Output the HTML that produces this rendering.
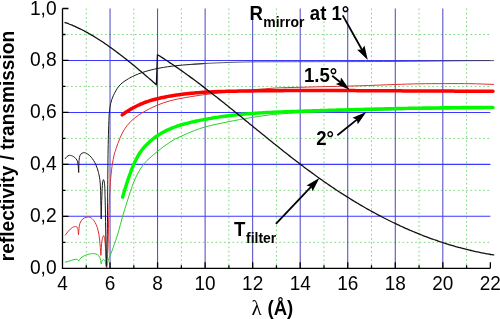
<!DOCTYPE html>
<html><head><meta charset="utf-8"><title>reflectivity / transmission</title>
<style>html,body{margin:0;padding:0;background:#fff;}body{width:500px;height:319px;overflow:hidden;}svg{display:block;filter:blur(0.3px);}</style>
</head><body>
<svg width="500" height="319" viewBox="0 0 500 319"><path d="M86.27 8.5 V268.3 M133.81 8.5 V268.3 M181.35 8.5 V268.3 M228.89 8.5 V268.3 M276.43 8.5 V268.3 M323.97 8.5 V268.3 M371.51 8.5 V268.3 M419.05 8.5 V268.3 M466.59 8.5 V268.3 M62.5 242.32 H490.36 M62.5 190.36 H490.36 M62.5 138.4 H490.36 M62.5 86.44 H490.36 M62.5 34.48 H490.36" stroke="#80d880" stroke-width="1" stroke-dasharray="1.7 2.55" fill="none"/>
<path d="M110.04 8.5 V268.3 M157.58 8.5 V268.3 M205.12 8.5 V268.3 M252.66 8.5 V268.3 M300.2 8.5 V268.3 M347.74 8.5 V268.3 M395.28 8.5 V268.3 M442.82 8.5 V268.3" stroke="#4a44c4" stroke-width="1" fill="none"/>
<path d="M62.5 216.34 H490.36 M62.5 164.38 H490.36 M62.5 112.42 H490.36 M62.5 60.46 H490.36" stroke="#3a3aff" stroke-width="1.05" fill="none"/>
<path d="M65.30 262.20C67.33 261.60 69.49 260.92 71.40 260.40C73.06 259.94 74.95 259.20 76.10 259.20C76.77 259.20 77.27 259.29 77.70 259.60C78.16 259.93 78.37 260.67 78.70 261.20C79.40 260.13 79.82 258.94 80.80 258.00C81.97 256.88 83.89 255.89 85.50 255.20C87.02 254.55 88.87 254.16 90.20 253.90C91.16 253.71 91.74 253.57 92.70 253.60C94.02 253.65 96.19 253.77 97.40 254.50C98.49 255.15 99.19 256.23 99.80 257.50C100.59 259.15 100.73 261.70 101.20 263.80C101.63 262.53 101.89 260.65 102.50 260.00C102.84 259.63 103.30 259.38 103.70 259.50C104.34 259.68 105.11 261.08 105.60 262.20C106.24 263.66 106.40 265.87 106.80 267.70C107.47 264.57 107.98 260.76 108.80 258.30C109.36 256.62 110.07 255.57 110.70 254.20C111.53 251.97 112.25 250.17 113.20 247.50C114.59 243.60 116.58 238.04 118.10 233.00C119.72 227.63 120.99 221.74 122.60 216.20C124.19 210.71 125.94 205.33 127.70 199.90C129.47 194.43 131.30 188.32 133.20 183.50C134.75 179.57 136.17 176.34 138.00 173.00C139.81 169.71 141.93 166.26 144.10 163.60C145.97 161.32 147.90 159.74 150.00 157.80C152.27 155.71 154.80 153.53 157.30 151.50C159.80 149.46 162.24 147.55 165.00 145.60C168.03 143.45 171.85 140.84 174.80 139.20C177.05 137.95 178.53 137.41 181.00 136.30C184.63 134.67 190.25 132.12 194.50 130.50C198.19 129.10 200.79 128.18 205.00 127.00C211.15 125.28 220.40 123.35 228.00 121.80C235.40 120.29 243.24 118.92 250.00 117.80C255.75 116.85 260.66 116.07 266.00 115.40C271.33 114.73 275.92 114.27 282.00 113.80C290.03 113.18 300.50 112.70 310.00 112.30C319.83 111.89 330.00 111.68 340.00 111.40C350.00 111.12 360.00 110.88 370.00 110.60C380.00 110.32 389.28 109.94 400.00 109.70C412.38 109.42 425.70 109.27 440.00 109.10C456.54 108.90 475.67 108.77 493.50 108.60" stroke="#2ad02a" stroke-width="1.0" fill="none" stroke-linejoin="round" stroke-linecap="round"/>
<path d="M65.30 235.20C66.40 233.77 67.40 232.19 68.60 230.90C69.74 229.67 70.97 228.34 72.30 227.60C73.49 226.94 75.18 226.23 76.10 226.50C76.80 226.70 77.22 227.37 77.60 228.20C78.25 229.62 78.20 232.60 78.50 234.80C78.97 231.00 78.88 226.23 79.90 223.40C80.58 221.49 81.52 220.06 82.70 219.00C83.77 218.04 85.21 217.35 86.50 217.10C87.71 216.87 89.04 216.90 90.20 217.40C91.56 217.99 92.88 219.28 94.00 220.80C95.48 222.80 96.78 225.84 97.70 228.80C98.74 232.16 99.09 235.96 99.60 240.00C100.20 244.71 100.47 250.27 100.90 255.40C101.30 250.27 101.35 243.59 102.10 240.00C102.52 237.98 103.24 235.37 103.70 235.40C104.24 235.44 104.66 239.42 105.00 242.00C105.48 245.59 105.65 250.73 105.90 255.00C106.15 259.16 106.30 263.20 106.50 267.30C106.97 261.53 107.56 256.46 107.90 250.00C108.33 241.79 108.35 230.77 108.60 222.00C108.82 214.22 109.03 205.90 109.30 200.00C109.48 196.02 109.66 193.67 109.90 190.00C110.20 185.50 110.55 179.56 111.00 175.00C111.38 171.16 111.76 167.82 112.30 164.40C112.81 161.16 113.39 157.82 114.10 155.00C114.69 152.64 115.29 150.97 116.10 148.60C117.13 145.56 118.51 141.53 119.90 138.30C121.19 135.29 122.37 132.53 124.10 129.80C125.93 126.92 128.01 124.13 130.70 121.50C133.81 118.45 137.84 115.51 142.00 112.90C146.53 110.06 152.11 107.37 157.00 105.30C161.42 103.42 165.45 102.06 170.00 100.80C174.85 99.46 180.24 98.54 185.30 97.60C190.24 96.68 195.07 95.90 200.00 95.20C204.97 94.50 210.00 93.97 215.00 93.40C220.00 92.83 224.36 92.35 230.00 91.80C237.27 91.09 247.03 90.25 255.00 89.60C262.30 89.00 268.76 88.38 276.00 88.00C283.73 87.59 291.55 87.54 300.00 87.30C309.44 87.04 320.00 86.75 330.00 86.50C340.00 86.25 349.62 86.11 360.00 85.80C371.22 85.46 384.31 84.85 395.00 84.50C404.03 84.21 410.24 83.95 420.00 83.80C433.81 83.59 456.44 83.51 470.00 83.70C479.30 83.83 485.67 84.17 493.50 84.40" stroke="#dd3030" stroke-width="1.0" fill="none" stroke-linejoin="round" stroke-linecap="round"/>
<path d="M122.60 197.15C123.27 194.89 123.93 192.59 124.60 190.36C125.26 188.18 125.93 186.03 126.60 183.91C127.26 181.86 127.93 179.83 128.61 177.85C129.26 175.94 129.93 174.06 130.61 172.23C131.26 170.48 131.93 168.75 132.61 167.10C133.26 165.52 133.93 163.98 134.61 162.50C135.26 161.11 135.93 159.76 136.62 158.46C137.27 157.23 137.93 156.05 138.62 154.92C139.27 153.84 139.94 152.81 140.62 151.82C141.27 150.87 141.94 149.97 142.62 149.10C143.28 148.27 143.94 147.47 144.62 146.71C145.28 145.97 145.95 145.26 146.63 144.58C147.28 143.92 147.95 143.28 148.63 142.67C149.29 142.06 149.96 141.47 150.63 140.90C151.29 140.34 151.96 139.79 152.63 139.25C153.30 138.72 153.96 138.21 154.63 137.71C155.30 137.21 155.97 136.73 156.64 136.26C157.30 135.80 157.97 135.35 158.64 134.91C159.30 134.48 159.97 134.06 160.64 133.65C161.31 133.25 161.97 132.86 162.64 132.48C163.31 132.11 163.98 131.74 164.65 131.39C165.31 131.04 165.98 130.70 166.65 130.38C167.31 130.05 167.98 129.74 168.65 129.43C169.32 129.13 169.98 128.84 170.65 128.56C171.32 128.28 171.99 128.01 172.65 127.74C173.32 127.48 173.99 127.23 174.66 126.98C175.32 126.74 175.99 126.51 176.66 126.28C177.32 126.05 177.99 125.83 178.66 125.62C179.33 125.41 179.99 125.20 180.66 125.00C181.33 124.80 182.00 124.61 182.66 124.42C183.33 124.24 184.00 124.05 184.67 123.88C185.33 123.70 186.00 123.53 186.67 123.36C187.34 123.19 188.00 123.02 188.67 122.86C189.34 122.70 190.01 122.54 190.67 122.38C191.34 122.22 192.01 122.07 192.68 121.92C193.34 121.76 194.01 121.61 194.68 121.47C195.34 121.32 196.01 121.17 196.68 121.03C197.35 120.89 198.01 120.75 198.68 120.61C199.35 120.47 200.02 120.33 200.68 120.20C201.35 120.06 202.02 119.93 202.69 119.80C203.35 119.67 204.02 119.54 204.69 119.42C205.36 119.29 206.02 119.17 206.69 119.05C207.36 118.93 208.03 118.81 208.69 118.69C209.36 118.57 210.03 118.46 210.70 118.35C211.36 118.23 212.03 118.12 212.70 118.01C213.36 117.90 214.03 117.80 214.70 117.69C215.37 117.59 216.03 117.48 216.70 117.38C217.37 117.28 218.04 117.18 218.70 117.08C219.37 116.98 220.04 116.89 220.71 116.79C221.37 116.70 222.04 116.61 222.71 116.51C223.38 116.42 224.04 116.33 224.71 116.25C225.38 116.16 226.04 116.07 226.71 115.99C227.38 115.91 228.05 115.82 228.71 115.74C229.38 115.66 230.05 115.58 230.72 115.50C231.38 115.43 232.05 115.35 232.72 115.28C233.39 115.20 234.05 115.13 234.72 115.06C235.39 114.98 236.06 114.91 236.72 114.85C237.39 114.78 238.06 114.71 238.73 114.64C239.39 114.58 240.06 114.51 240.73 114.45C241.39 114.39 242.06 114.32 242.73 114.26C243.40 114.20 244.06 114.14 244.73 114.08C245.40 114.03 246.07 113.97 246.73 113.91C247.40 113.86 248.07 113.80 248.74 113.75C249.40 113.70 250.07 113.65 250.74 113.59C251.41 113.54 252.07 113.49 252.74 113.44C253.41 113.40 254.08 113.35 254.74 113.30C255.41 113.25 256.08 113.21 256.74 113.16C257.41 113.12 258.08 113.08 258.75 113.03C259.41 112.99 260.08 112.95 260.75 112.91C261.42 112.87 262.08 112.83 262.75 112.79C263.42 112.75 264.09 112.71 264.75 112.67C265.42 112.64 266.09 112.60 266.76 112.56C267.42 112.53 268.09 112.49 268.76 112.46C269.43 112.42 270.09 112.39 270.76 112.36C271.43 112.32 272.09 112.29 272.76 112.26C273.43 112.23 274.10 112.20 274.76 112.17C275.43 112.14 276.10 112.11 276.77 112.08C277.43 112.05 278.10 112.02 278.77 111.99C279.44 111.96 280.10 111.94 280.77 111.91C281.44 111.88 282.11 111.86 282.77 111.83C283.44 111.80 284.11 111.78 284.78 111.75C285.44 111.73 286.11 111.70 286.78 111.68C287.44 111.65 288.11 111.63 288.78 111.60C289.45 111.58 290.11 111.56 290.78 111.53C291.45 111.51 292.12 111.49 292.78 111.46C293.45 111.44 294.12 111.42 294.79 111.39C295.45 111.37 296.12 111.35 296.79 111.33C297.46 111.31 298.12 111.28 298.79 111.26C299.46 111.24 300.13 111.22 300.79 111.19C301.46 111.17 302.13 111.15 302.79 111.13C303.46 111.11 304.13 111.09 304.80 111.06C305.46 111.04 306.13 111.02 306.80 111.00C307.47 110.98 308.13 110.96 308.80 110.93C309.47 110.91 310.14 110.89 310.80 110.87C311.47 110.85 312.14 110.83 312.81 110.81C313.47 110.78 314.14 110.76 314.81 110.74C315.47 110.72 316.14 110.70 316.81 110.68C317.48 110.66 318.14 110.64 318.81 110.62C319.48 110.60 320.15 110.58 320.81 110.55C321.48 110.53 322.15 110.51 322.82 110.49C323.48 110.47 324.15 110.45 324.82 110.43C325.49 110.41 326.15 110.39 326.82 110.37C327.49 110.35 328.16 110.33 328.82 110.31C329.49 110.29 330.16 110.27 330.82 110.25C331.49 110.23 332.16 110.21 332.83 110.19C333.49 110.17 334.16 110.15 334.83 110.13C335.50 110.11 336.16 110.09 336.83 110.07C337.50 110.05 338.17 110.03 338.83 110.01C339.50 109.99 340.17 109.98 340.84 109.96C341.50 109.94 342.17 109.92 342.84 109.90C343.51 109.88 344.17 109.86 344.84 109.84C345.51 109.82 346.17 109.80 346.84 109.79C347.51 109.77 348.18 109.75 348.84 109.73C349.51 109.71 350.18 109.69 350.85 109.67C351.51 109.66 352.18 109.64 352.85 109.62C353.52 109.60 354.18 109.58 354.85 109.56C355.52 109.55 356.19 109.53 356.85 109.51C357.52 109.49 358.19 109.48 358.86 109.46C359.52 109.44 360.19 109.42 360.86 109.40C361.52 109.39 362.19 109.37 362.86 109.35C363.53 109.34 364.19 109.32 364.86 109.30C365.53 109.28 366.20 109.27 366.86 109.25C367.53 109.23 368.20 109.22 368.87 109.20C369.53 109.18 370.20 109.17 370.87 109.15C371.54 109.13 372.20 109.12 372.87 109.10C373.54 109.08 374.21 109.07 374.87 109.05C375.54 109.03 376.21 109.02 376.87 109.00C377.54 108.99 378.21 108.97 378.88 108.95C379.54 108.94 380.21 108.92 380.88 108.91C381.55 108.89 382.21 108.88 382.88 108.86C383.55 108.85 384.22 108.83 384.88 108.81C385.55 108.80 386.22 108.78 386.89 108.77C387.55 108.75 388.22 108.74 388.89 108.72C389.55 108.71 390.22 108.70 390.89 108.68C391.56 108.67 392.22 108.65 392.89 108.64C393.56 108.62 394.23 108.61 394.89 108.59C395.56 108.58 396.23 108.57 396.90 108.55C397.56 108.54 398.23 108.52 398.90 108.51C399.57 108.50 400.23 108.48 400.90 108.47C401.57 108.46 402.24 108.44 402.90 108.43C403.57 108.42 404.24 108.40 404.90 108.39C405.57 108.38 406.24 108.36 406.91 108.35C407.57 108.34 408.24 108.33 408.91 108.31C409.58 108.30 410.24 108.29 410.91 108.28C411.58 108.26 412.25 108.25 412.91 108.24C413.58 108.23 414.25 108.21 414.92 108.20C415.58 108.19 416.25 108.18 416.92 108.17C417.59 108.16 418.25 108.14 418.92 108.13C419.59 108.12 420.25 108.11 420.92 108.10C421.59 108.09 422.26 108.08 422.92 108.07C423.59 108.05 424.26 108.04 424.93 108.03C425.59 108.02 426.26 108.01 426.93 108.00C427.60 107.99 428.26 107.98 428.93 107.97C429.60 107.96 430.27 107.95 430.93 107.94C431.60 107.93 432.27 107.92 432.94 107.91C433.60 107.90 434.27 107.89 434.94 107.88C435.60 107.87 436.27 107.86 436.94 107.85C437.61 107.85 438.27 107.84 438.94 107.83C439.61 107.82 440.28 107.81 440.94 107.80C441.61 107.79 442.28 107.78 442.95 107.78C443.61 107.77 444.28 107.76 444.95 107.75C445.62 107.74 446.28 107.73 446.95 107.73C447.62 107.72 448.29 107.71 448.95 107.70C449.62 107.70 450.29 107.69 450.95 107.68C451.62 107.67 452.29 107.67 452.96 107.66C453.62 107.65 454.29 107.65 454.96 107.64C455.63 107.63 456.29 107.63 456.96 107.62C457.63 107.61 458.30 107.61 458.96 107.60C459.63 107.59 460.30 107.59 460.97 107.58C461.63 107.58 462.30 107.57 462.97 107.56C463.63 107.56 464.30 107.55 464.97 107.55C465.64 107.54 466.30 107.54 466.97 107.53C467.64 107.53 468.31 107.52 468.97 107.52C469.64 107.51 470.31 107.51 470.98 107.50C471.64 107.50 472.31 107.49 472.98 107.49C473.65 107.49 474.31 107.48 474.98 107.48C475.65 107.47 476.32 107.47 476.98 107.47C477.65 107.46 478.32 107.46 478.98 107.46C479.65 107.45 480.32 107.45 480.99 107.45C481.65 107.44 482.32 107.44 482.99 107.44C483.66 107.44 484.32 107.43 484.99 107.43C485.66 107.43 486.33 107.43 486.99 107.42C487.66 107.42 488.33 107.42 489.00 107.42C489.66 107.42 490.33 107.41 491.00 107.41C491.67 107.41 492.33 107.41 493.00 107.41" stroke="#00fa00" stroke-width="3.4" fill="none" stroke-linejoin="round" stroke-linecap="round"/>
<path d="M122.20 114.94C122.87 114.45 123.53 113.95 124.20 113.46C124.87 112.99 125.54 112.52 126.21 112.07C126.87 111.62 127.54 111.18 128.21 110.75C128.88 110.33 129.55 109.91 130.22 109.51C130.88 109.11 131.55 108.72 132.22 108.35C132.89 107.97 133.56 107.60 134.23 107.25C134.89 106.90 135.56 106.55 136.23 106.22C136.90 105.89 137.56 105.57 138.23 105.26C138.90 104.95 139.57 104.65 140.24 104.36C140.91 104.07 141.57 103.78 142.24 103.51C142.91 103.24 143.58 102.98 144.25 102.72C144.91 102.47 145.58 102.22 146.25 101.99C146.92 101.75 147.59 101.52 148.26 101.30C148.92 101.08 149.59 100.86 150.26 100.65C150.93 100.45 151.60 100.25 152.26 100.05C152.93 99.86 153.60 99.67 154.27 99.49C154.94 99.31 155.60 99.14 156.27 98.97C156.94 98.80 157.61 98.63 158.28 98.48C158.95 98.32 159.61 98.16 160.28 98.01C160.95 97.86 161.62 97.72 162.29 97.58C162.95 97.44 163.62 97.30 164.29 97.17C164.96 97.03 165.63 96.90 166.30 96.78C166.96 96.65 167.63 96.53 168.30 96.40C168.97 96.28 169.64 96.17 170.30 96.05C170.97 95.93 171.64 95.82 172.31 95.71C172.98 95.60 173.64 95.50 174.31 95.39C174.98 95.29 175.65 95.18 176.32 95.09C176.98 94.99 177.65 94.89 178.32 94.80C178.99 94.70 179.66 94.61 180.33 94.52C180.99 94.43 181.66 94.35 182.33 94.26C183.00 94.18 183.67 94.10 184.33 94.02C185.00 93.94 185.67 93.86 186.34 93.78C187.01 93.71 187.67 93.64 188.34 93.57C189.01 93.49 189.68 93.43 190.35 93.36C191.02 93.29 191.68 93.23 192.35 93.17C193.02 93.10 193.69 93.04 194.36 92.99C195.02 92.93 195.69 92.87 196.36 92.82C197.03 92.76 197.70 92.71 198.36 92.66C199.03 92.61 199.70 92.56 200.37 92.51C201.04 92.46 201.70 92.42 202.37 92.37C203.04 92.33 203.71 92.28 204.38 92.24C205.05 92.20 205.71 92.16 206.38 92.12C207.05 92.09 207.72 92.05 208.39 92.01C209.05 91.98 209.72 91.94 210.39 91.91C211.06 91.88 211.73 91.85 212.39 91.82C213.06 91.79 213.73 91.76 214.40 91.73C215.07 91.70 215.74 91.68 216.40 91.65C217.07 91.63 217.74 91.60 218.41 91.58C219.08 91.55 219.74 91.53 220.41 91.51C221.08 91.49 221.75 91.47 222.42 91.45C223.08 91.43 223.75 91.41 224.42 91.39C225.09 91.37 225.76 91.36 226.42 91.34C227.09 91.32 227.76 91.31 228.43 91.29C229.10 91.28 229.77 91.26 230.43 91.25C231.10 91.24 231.77 91.22 232.44 91.21C233.11 91.20 233.77 91.18 234.44 91.17C235.11 91.16 235.78 91.15 236.45 91.14C237.11 91.12 237.78 91.11 238.45 91.10C239.12 91.09 239.79 91.08 240.46 91.07C241.12 91.06 241.79 91.05 242.46 91.04C243.13 91.03 243.80 91.02 244.46 91.01C245.13 91.00 245.80 90.99 246.47 90.98C247.14 90.97 247.80 90.96 248.47 90.95C249.14 90.94 249.81 90.93 250.48 90.92C251.14 90.92 251.81 90.91 252.48 90.90C253.15 90.89 253.82 90.88 254.49 90.87C255.15 90.87 255.82 90.86 256.49 90.85C257.16 90.84 257.83 90.84 258.49 90.83C259.16 90.82 259.83 90.81 260.50 90.81C261.17 90.80 261.83 90.79 262.50 90.79C263.17 90.78 263.84 90.77 264.51 90.77C265.18 90.76 265.84 90.75 266.51 90.75C267.18 90.74 267.85 90.73 268.52 90.73C269.18 90.72 269.85 90.72 270.52 90.71C271.19 90.71 271.86 90.70 272.52 90.69C273.19 90.69 273.86 90.68 274.53 90.68C275.20 90.67 275.86 90.67 276.53 90.66C277.20 90.66 277.87 90.66 278.54 90.65C279.21 90.65 279.87 90.64 280.54 90.64C281.21 90.63 281.88 90.63 282.55 90.63C283.21 90.62 283.88 90.62 284.55 90.62C285.22 90.61 285.89 90.61 286.55 90.60C287.22 90.60 287.89 90.60 288.56 90.59C289.23 90.59 289.90 90.59 290.56 90.59C291.23 90.58 291.90 90.58 292.57 90.58C293.24 90.58 293.90 90.57 294.57 90.57C295.24 90.57 295.91 90.57 296.58 90.56C297.24 90.56 297.91 90.56 298.58 90.56C299.25 90.56 299.92 90.55 300.58 90.55C301.25 90.55 301.92 90.55 302.59 90.55C303.26 90.55 303.93 90.55 304.59 90.54C305.26 90.54 305.93 90.54 306.60 90.54C307.27 90.54 307.93 90.54 308.60 90.54C309.27 90.54 309.94 90.54 310.61 90.54C311.27 90.54 311.94 90.53 312.61 90.53C313.28 90.53 313.95 90.53 314.62 90.53C315.28 90.53 315.95 90.53 316.62 90.53C317.29 90.53 317.96 90.53 318.62 90.53C319.29 90.53 319.96 90.53 320.63 90.53C321.30 90.53 321.96 90.54 322.63 90.54C323.30 90.54 323.97 90.54 324.64 90.54C325.30 90.54 325.97 90.54 326.64 90.54C327.31 90.54 327.98 90.54 328.65 90.54C329.31 90.54 329.98 90.55 330.65 90.55C331.32 90.55 331.99 90.55 332.65 90.55C333.32 90.55 333.99 90.55 334.66 90.55C335.33 90.56 335.99 90.56 336.66 90.56C337.33 90.56 338.00 90.56 338.67 90.56C339.34 90.57 340.00 90.57 340.67 90.57C341.34 90.57 342.01 90.57 342.68 90.58C343.34 90.58 344.01 90.58 344.68 90.58C345.35 90.59 346.02 90.59 346.68 90.59C347.35 90.59 348.02 90.59 348.69 90.60C349.36 90.60 350.02 90.60 350.69 90.60C351.36 90.61 352.03 90.61 352.70 90.61C353.37 90.62 354.03 90.62 354.70 90.62C355.37 90.62 356.04 90.63 356.71 90.63C357.37 90.63 358.04 90.63 358.71 90.64C359.38 90.64 360.05 90.64 360.71 90.65C361.38 90.65 362.05 90.65 362.72 90.66C363.39 90.66 364.06 90.66 364.72 90.67C365.39 90.67 366.06 90.67 366.73 90.68C367.40 90.68 368.06 90.68 368.73 90.69C369.40 90.69 370.07 90.69 370.74 90.70C371.40 90.70 372.07 90.70 372.74 90.71C373.41 90.71 374.08 90.71 374.74 90.72C375.41 90.72 376.08 90.72 376.75 90.73C377.42 90.73 378.09 90.74 378.75 90.74C379.42 90.74 380.09 90.75 380.76 90.75C381.43 90.75 382.09 90.76 382.76 90.76C383.43 90.76 384.10 90.77 384.77 90.77C385.43 90.78 386.10 90.78 386.77 90.78C387.44 90.79 388.11 90.79 388.78 90.80C389.44 90.80 390.11 90.80 390.78 90.81C391.45 90.81 392.12 90.81 392.78 90.82C393.45 90.82 394.12 90.83 394.79 90.83C395.46 90.83 396.12 90.84 396.79 90.84C397.46 90.85 398.13 90.85 398.80 90.85C399.46 90.86 400.13 90.86 400.80 90.87C401.47 90.87 402.14 90.87 402.81 90.88C403.47 90.88 404.14 90.88 404.81 90.89C405.48 90.89 406.15 90.90 406.81 90.90C407.48 90.90 408.15 90.91 408.82 90.91C409.49 90.92 410.15 90.92 410.82 90.92C411.49 90.93 412.16 90.93 412.83 90.93C413.50 90.94 414.16 90.94 414.83 90.95C415.50 90.95 416.17 90.95 416.84 90.96C417.50 90.96 418.17 90.96 418.84 90.97C419.51 90.97 420.18 90.98 420.84 90.98C421.51 90.98 422.18 90.99 422.85 90.99C423.52 90.99 424.18 91.00 424.85 91.00C425.52 91.00 426.19 91.01 426.86 91.01C427.53 91.01 428.19 91.02 428.86 91.02C429.53 91.02 430.20 91.03 430.87 91.03C431.53 91.03 432.20 91.04 432.87 91.04C433.54 91.04 434.21 91.05 434.87 91.05C435.54 91.05 436.21 91.06 436.88 91.06C437.55 91.06 438.22 91.07 438.88 91.07C439.55 91.07 440.22 91.07 440.89 91.08C441.56 91.08 442.22 91.08 442.89 91.09C443.56 91.09 444.23 91.09 444.90 91.09C445.56 91.10 446.23 91.10 446.90 91.10C447.57 91.11 448.24 91.11 448.90 91.11C449.57 91.11 450.24 91.11 450.91 91.12C451.58 91.12 452.25 91.12 452.91 91.12C453.58 91.13 454.25 91.13 454.92 91.13C455.59 91.13 456.25 91.13 456.92 91.14C457.59 91.14 458.26 91.14 458.93 91.14C459.59 91.14 460.26 91.15 460.93 91.15C461.60 91.15 462.27 91.15 462.94 91.15C463.60 91.15 464.27 91.16 464.94 91.16C465.61 91.16 466.28 91.16 466.94 91.16C467.61 91.16 468.28 91.16 468.95 91.16C469.62 91.17 470.28 91.17 470.95 91.17C471.62 91.17 472.29 91.17 472.96 91.17C473.62 91.17 474.29 91.17 474.96 91.17C475.63 91.17 476.30 91.17 476.97 91.17C477.63 91.17 478.30 91.17 478.97 91.17C479.64 91.17 480.31 91.17 480.97 91.17C481.64 91.17 482.31 91.17 482.98 91.17C483.65 91.17 484.31 91.17 484.98 91.17C485.65 91.17 486.32 91.17 486.99 91.17C487.66 91.17 488.32 91.17 488.99 91.17C489.66 91.17 490.33 91.17 491.00 91.17C491.66 91.17 492.33 91.17 493.00 91.16" stroke="#ff0000" stroke-width="3.5" fill="none" stroke-linejoin="round" stroke-linecap="round"/>
<path d="M65.30 158.60C65.77 158.00 66.08 157.32 66.70 156.80C67.43 156.19 68.47 155.40 69.50 155.30C70.65 155.19 72.18 155.88 73.30 156.50C74.37 157.10 75.38 157.97 76.10 158.90C76.79 159.78 77.21 160.55 77.60 161.90C78.30 164.31 78.33 168.97 78.70 172.50C78.93 167.50 78.68 160.65 79.40 157.50C79.75 155.96 80.07 155.02 80.80 154.20C81.49 153.42 82.57 152.70 83.60 152.60C84.75 152.49 86.20 153.21 87.40 153.90C88.75 154.68 89.98 155.79 91.20 157.20C92.75 159.00 94.40 161.60 95.60 164.10C96.86 166.72 97.75 169.66 98.50 172.60C99.27 175.62 99.72 178.35 100.10 182.00C100.62 187.02 100.62 193.92 100.80 200.00C100.99 206.25 101.07 212.67 101.20 219.00C101.43 211.00 101.61 201.63 101.90 195.00C102.11 190.31 102.20 185.77 102.60 183.00C102.82 181.51 103.09 179.62 103.40 179.60C103.67 179.58 104.06 180.82 104.30 182.00C104.91 184.95 104.89 191.75 105.10 198.00C105.40 206.83 105.51 218.98 105.70 230.00C105.91 241.77 106.10 254.33 106.30 266.50C106.60 257.67 106.98 250.23 107.20 240.00C107.51 225.96 107.54 205.74 107.70 190.00C107.84 175.92 107.91 161.05 108.10 150.00C108.24 142.19 108.37 136.49 108.60 130.00C108.81 123.84 108.92 116.88 109.40 112.00C109.73 108.63 110.04 106.25 110.70 103.50C111.35 100.82 112.10 98.36 113.30 95.70C114.69 92.64 116.92 88.68 118.80 86.30C120.17 84.56 121.57 83.45 123.00 82.30C124.31 81.25 125.75 80.39 127.00 79.60C128.06 78.92 128.86 78.43 130.00 77.80C131.44 77.01 133.17 76.11 135.00 75.30C137.12 74.36 139.57 73.43 142.00 72.60C144.56 71.72 147.17 70.93 150.00 70.20C153.13 69.39 156.32 68.67 160.00 68.00C164.48 67.18 169.99 66.38 175.00 65.80C179.99 65.22 185.00 64.88 190.00 64.50C195.00 64.12 200.00 63.83 205.00 63.50" stroke="#1a1a1a" stroke-width="1.0" fill="none" stroke-linejoin="round" stroke-linecap="round"/>
<path d="M190.00 64.50C195.00 64.17 199.36 63.81 205.00 63.50C212.27 63.10 222.13 62.67 230.00 62.40C237.04 62.16 242.66 62.01 250.00 61.90C258.99 61.77 268.73 61.79 280.00 61.75C294.55 61.70 311.93 61.70 330.00 61.65C351.38 61.59 379.91 61.54 400.00 61.40C415.19 61.30 427.62 61.12 440.00 61.00C450.72 60.89 460.59 60.77 470.00 60.70C478.36 60.64 485.80 60.63 493.70 60.60" stroke="#404040" stroke-width="0.85" fill="none" stroke-linejoin="round" stroke-linecap="round"/>
<path d="M65.00 22.52C65.66 22.76 66.33 22.99 66.99 23.23C67.65 23.47 68.31 23.72 68.97 23.98C69.64 24.24 70.30 24.50 70.96 24.77C71.62 25.04 72.29 25.31 72.95 25.59C73.61 25.88 74.27 26.16 74.93 26.46C75.60 26.75 76.26 27.05 76.92 27.36C77.59 27.67 78.25 27.98 78.91 28.30C79.57 28.61 80.23 28.94 80.90 29.27C81.56 29.60 82.22 29.93 82.88 30.28C83.55 30.62 84.21 30.96 84.87 31.32C85.53 31.67 86.20 32.03 86.86 32.39C87.52 32.75 88.18 33.12 88.84 33.50C89.51 33.87 90.17 34.25 90.83 34.64C91.49 35.02 92.16 35.41 92.82 35.80C93.48 36.20 94.14 36.60 94.80 37.00C95.47 37.41 96.13 37.82 96.79 38.23C97.45 38.65 98.12 39.06 98.78 39.49C99.44 39.91 100.10 40.34 100.77 40.77C101.43 41.20 102.09 41.64 102.75 42.08C103.42 42.52 104.08 42.97 104.74 43.42C105.40 43.87 106.06 44.32 106.73 44.78C107.39 45.24 108.05 45.70 108.71 46.17C109.38 46.63 110.04 47.11 110.70 47.58C111.36 48.05 112.03 48.53 112.69 49.01C113.35 49.49 114.01 49.98 114.67 50.47C115.34 50.96 116.00 51.45 116.66 51.95C117.32 52.44 117.99 52.94 118.65 53.44C119.31 53.95 119.97 54.45 120.63 54.96C121.30 55.47 121.96 55.98 122.62 56.50C123.28 57.01 123.95 57.53 124.61 58.05C125.27 58.58 125.93 59.10 126.60 59.63C127.26 60.16 127.92 60.69 128.58 61.22C129.25 61.75 129.91 62.29 130.57 62.82C131.23 63.36 131.89 63.90 132.56 64.44C133.22 64.99 133.88 65.53 134.54 66.08C135.21 66.63 135.87 67.18 136.53 67.73C137.19 68.28 137.86 68.84 138.52 69.39C139.18 69.95 139.84 70.51 140.50 71.07C141.17 71.63 141.83 72.19 142.49 72.75C143.15 73.32 143.82 73.88 144.48 74.45C145.14 75.02 145.80 75.59 146.47 76.16C147.13 76.73 147.79 77.30 148.45 77.87C149.11 78.45 149.78 79.02 150.44 79.60C151.10 80.17 151.76 80.75 152.43 81.33C153.09 81.91 153.75 82.49 154.41 83.07C155.08 83.65 155.74 84.23 156.40 84.81L157.40 54.90C158.07 55.21 158.75 55.48 159.40 55.84C160.08 56.22 160.74 56.69 161.40 57.11C162.07 57.54 162.74 57.97 163.41 58.40C164.07 58.83 164.74 59.26 165.41 59.70C166.07 60.14 166.74 60.57 167.41 61.01C168.08 61.46 168.74 61.90 169.41 62.35C170.08 62.79 170.75 63.24 171.41 63.69C172.08 64.14 172.75 64.60 173.41 65.05C174.08 65.51 174.75 65.96 175.42 66.42C176.08 66.88 176.75 67.35 177.42 67.81C178.09 68.27 178.75 68.74 179.42 69.21C180.09 69.68 180.75 70.15 181.42 70.62C182.09 71.09 182.76 71.57 183.42 72.05C184.09 72.52 184.76 73.00 185.43 73.48C186.09 73.96 186.76 74.45 187.43 74.93C188.09 75.41 188.76 75.90 189.43 76.39C190.10 76.88 190.76 77.37 191.43 77.86C192.10 78.35 192.77 78.84 193.43 79.34C194.10 79.83 194.77 80.33 195.43 80.83C196.10 81.33 196.77 81.83 197.44 82.33C198.10 82.83 198.77 83.34 199.44 83.84C200.11 84.35 200.77 84.85 201.44 85.36C202.11 85.87 202.77 86.38 203.44 86.89C204.11 87.40 204.78 87.91 205.44 88.42C206.11 88.94 206.78 89.45 207.44 89.97C208.11 90.48 208.78 91.00 209.45 91.52C210.11 92.04 210.78 92.56 211.45 93.08C212.12 93.60 212.78 94.12 213.45 94.65C214.12 95.17 214.78 95.69 215.45 96.22C216.12 96.75 216.79 97.27 217.45 97.80C218.12 98.33 218.79 98.86 219.46 99.38C220.12 99.91 220.79 100.44 221.46 100.98C222.12 101.51 222.79 102.04 223.46 102.57C224.13 103.10 224.79 103.64 225.46 104.17C226.13 104.71 226.80 105.24 227.46 105.78C228.13 106.31 228.80 106.85 229.46 107.39C230.13 107.93 230.80 108.46 231.47 109.00C232.13 109.54 232.80 110.08 233.47 110.62C234.14 111.16 234.80 111.70 235.47 112.24C236.14 112.78 236.80 113.32 237.47 113.86C238.14 114.40 238.81 114.95 239.47 115.49C240.14 116.03 240.81 116.57 241.47 117.11C242.14 117.66 242.81 118.20 243.48 118.74C244.14 119.29 244.81 119.83 245.48 120.37C246.15 120.92 246.81 121.46 247.48 122.01C248.15 122.55 248.81 123.09 249.48 123.64C250.15 124.18 250.82 124.73 251.48 125.27C252.15 125.81 252.82 126.36 253.49 126.90C254.15 127.45 254.82 127.99 255.49 128.53C256.15 129.08 256.82 129.62 257.49 130.16C258.16 130.71 258.82 131.25 259.49 131.79C260.16 132.34 260.83 132.88 261.49 133.42C262.16 133.97 262.83 134.51 263.49 135.05C264.16 135.59 264.83 136.13 265.50 136.67C266.16 137.21 266.83 137.76 267.50 138.30C268.17 138.84 268.83 139.38 269.50 139.91C270.17 140.45 270.83 140.99 271.50 141.53C272.17 142.07 272.84 142.61 273.50 143.14C274.17 143.68 274.84 144.21 275.51 144.75C276.17 145.29 276.84 145.82 277.51 146.35C278.17 146.89 278.84 147.42 279.51 147.95C280.18 148.49 280.84 149.02 281.51 149.55C282.18 150.08 282.85 150.61 283.51 151.14C284.18 151.66 284.85 152.19 285.51 152.72C286.18 153.25 286.85 153.77 287.52 154.30C288.18 154.82 288.85 155.34 289.52 155.87C290.18 156.39 290.85 156.91 291.52 157.43C292.19 157.95 292.85 158.47 293.52 158.99C294.19 159.50 294.86 160.02 295.52 160.54C296.19 161.05 296.86 161.56 297.52 162.08C298.19 162.59 298.86 163.10 299.53 163.61C300.19 164.12 300.86 164.63 301.53 165.13C302.20 165.64 302.86 166.15 303.53 166.65C304.20 167.15 304.86 167.65 305.53 168.16C306.20 168.66 306.87 169.15 307.53 169.65C308.20 170.15 308.87 170.64 309.54 171.14C310.20 171.63 310.87 172.12 311.54 172.61C312.20 173.10 312.87 173.59 313.54 174.08C314.21 174.57 314.87 175.05 315.54 175.53C316.21 176.02 316.88 176.50 317.54 176.98C318.21 177.46 318.88 177.93 319.54 178.41C320.21 178.88 320.88 179.36 321.55 179.83C322.21 180.30 322.88 180.77 323.55 181.24C324.22 181.70 324.88 182.17 325.55 182.63C326.22 183.09 326.88 183.55 327.55 184.01C328.22 184.47 328.89 184.93 329.55 185.38C330.22 185.84 330.89 186.29 331.56 186.74C332.22 187.19 332.89 187.64 333.56 188.09C334.22 188.54 334.89 188.98 335.56 189.42C336.23 189.87 336.89 190.31 337.56 190.75C338.23 191.18 338.89 191.62 339.56 192.06C340.23 192.49 340.90 192.92 341.56 193.35C342.23 193.78 342.90 194.21 343.57 194.64C344.23 195.06 344.90 195.49 345.57 195.91C346.23 196.33 346.90 196.75 347.57 197.17C348.24 197.59 348.90 198.01 349.57 198.42C350.24 198.83 350.91 199.25 351.57 199.66C352.24 200.07 352.91 200.47 353.57 200.88C354.24 201.28 354.91 201.69 355.58 202.09C356.24 202.49 356.91 202.89 357.58 203.29C358.25 203.69 358.91 204.08 359.58 204.48C360.25 204.87 360.91 205.26 361.58 205.65C362.25 206.04 362.92 206.43 363.58 206.81C364.25 207.20 364.92 207.58 365.59 207.96C366.25 208.34 366.92 208.72 367.59 209.10C368.25 209.47 368.92 209.85 369.59 210.22C370.26 210.59 370.92 210.96 371.59 211.33C372.26 211.70 372.93 212.07 373.59 212.43C374.26 212.80 374.93 213.16 375.59 213.52C376.26 213.88 376.93 214.24 377.60 214.59C378.26 214.95 378.93 215.30 379.60 215.65C380.27 216.01 380.93 216.36 381.60 216.70C382.27 217.05 382.93 217.40 383.60 217.74C384.27 218.08 384.94 218.42 385.60 218.76C386.27 219.10 386.94 219.44 387.61 219.77C388.27 220.11 388.94 220.44 389.61 220.77C390.27 221.10 390.94 221.43 391.61 221.76C392.28 222.08 392.94 222.41 393.61 222.73C394.28 223.05 394.94 223.37 395.61 223.69C396.28 224.01 396.95 224.33 397.61 224.64C398.28 224.95 398.95 225.27 399.62 225.57C400.28 225.88 400.95 226.19 401.62 226.50C402.28 226.80 402.95 227.11 403.62 227.41C404.29 227.71 404.95 228.01 405.62 228.30C406.29 228.60 406.96 228.89 407.62 229.19C408.29 229.48 408.96 229.77 409.62 230.06C410.29 230.35 410.96 230.63 411.63 230.92C412.29 231.20 412.96 231.48 413.63 231.76C414.30 232.04 414.96 232.32 415.63 232.60C416.30 232.87 416.96 233.14 417.63 233.42C418.30 233.69 418.97 233.96 419.63 234.22C420.30 234.49 420.97 234.75 421.64 235.02C422.30 235.28 422.97 235.54 423.64 235.80C424.30 236.06 424.97 236.31 425.64 236.57C426.31 236.82 426.97 237.07 427.64 237.32C428.31 237.57 428.98 237.82 429.64 238.06C430.31 238.31 430.98 238.55 431.64 238.79C432.31 239.03 432.98 239.27 433.65 239.51C434.31 239.75 434.98 239.98 435.65 240.21C436.32 240.45 436.98 240.68 437.65 240.90C438.32 241.13 438.98 241.36 439.65 241.58C440.32 241.81 440.99 242.03 441.65 242.25C442.32 242.47 442.99 242.68 443.66 242.90C444.32 243.11 444.99 243.33 445.66 243.54C446.32 243.75 446.99 243.96 447.66 244.16C448.33 244.37 448.99 244.57 449.66 244.77C450.33 244.98 450.99 245.18 451.66 245.37C452.33 245.57 453.00 245.77 453.66 245.96C454.33 246.15 455.00 246.34 455.67 246.53C456.33 246.72 457.00 246.91 457.67 247.09C458.33 247.28 459.00 247.46 459.67 247.64C460.34 247.82 461.00 248.00 461.67 248.17C462.34 248.35 463.01 248.52 463.67 248.69C464.34 248.86 465.01 249.03 465.67 249.20C466.34 249.36 467.01 249.53 467.68 249.69C468.34 249.85 469.01 250.01 469.68 250.17C470.35 250.33 471.01 250.49 471.68 250.64C472.35 250.79 473.01 250.94 473.68 251.09C474.35 251.24 475.02 251.39 475.68 251.53C476.35 251.68 477.02 251.82 477.69 251.96C478.35 252.10 479.02 252.24 479.69 252.37C480.35 252.51 481.02 252.64 481.69 252.77C482.36 252.91 483.02 253.03 483.69 253.16C484.36 253.29 485.03 253.41 485.69 253.53C486.36 253.66 487.03 253.78 487.69 253.89C488.36 254.01 489.03 254.13 489.70 254.24C490.36 254.36 491.03 254.47 491.70 254.58C492.37 254.68 493.03 254.79 493.70 254.90" stroke="#111111" stroke-width="1.3" fill="none" stroke-linejoin="round" stroke-linecap="round"/>
<path d="M62.5 8.5 V268.3 H490.36 M62.5 268.3 h6 M62.5 242.32 h3 M62.5 216.34 h6 M62.5 190.36 h3 M62.5 164.38 h6 M62.5 138.4 h3 M62.5 112.42 h6 M62.5 86.44 h3 M62.5 60.46 h6 M62.5 34.48 h3 M62.5 8.5 h6 M62.5 268.3 v-6 M86.27 268.3 v-3 M110.04 268.3 v-6 M133.81 268.3 v-3 M157.58 268.3 v-6 M181.35 268.3 v-3 M205.12 268.3 v-6 M228.89 268.3 v-3 M252.66 268.3 v-6 M276.43 268.3 v-3 M300.2 268.3 v-6 M323.97 268.3 v-3 M347.74 268.3 v-6 M371.51 268.3 v-3 M395.28 268.3 v-6 M419.05 268.3 v-3 M442.82 268.3 v-6 M466.59 268.3 v-3 M490.36 268.3 v-6" stroke="#000" stroke-width="1.3" fill="none" stroke-linecap="butt"/>
<path d="M342.70 15.40 L362.12 49.99" stroke="#000" stroke-width="1.8" fill="none"/><path d="M367.80 60.10 L357.14 49.69 L361.88 49.55 L364.46 45.57 Z" fill="#000"/>
<path d="M332.20 75.80 L340.56 82.53" stroke="#000" stroke-width="1.8" fill="none"/><path d="M349.60 89.80 L335.83 84.11 L340.17 82.21 L341.09 77.56 Z" fill="#000"/>
<path d="M337.40 135.20 L357.24 119.34" stroke="#000" stroke-width="1.8" fill="none"/><path d="M366.30 112.10 L357.75 124.31 L356.85 119.65 L352.51 117.75 Z" fill="#000"/>
<path d="M275.90 223.80 L311.42 186.32" stroke="#000" stroke-width="1.8" fill="none"/><path d="M319.40 177.90 L312.61 191.17 L311.08 186.68 L306.51 185.39 Z" fill="#000"/>
<text transform="translate(56.6 274.3) scale(0.96 1)" font-family="Liberation Sans, sans-serif" font-size="20" font-weight="normal" text-anchor="end">0,0</text>
<text transform="translate(56.6 222.34) scale(0.96 1)" font-family="Liberation Sans, sans-serif" font-size="20" font-weight="normal" text-anchor="end">0,2</text>
<text transform="translate(56.6 170.38) scale(0.96 1)" font-family="Liberation Sans, sans-serif" font-size="20" font-weight="normal" text-anchor="end">0,4</text>
<text transform="translate(56.6 118.42) scale(0.96 1)" font-family="Liberation Sans, sans-serif" font-size="20" font-weight="normal" text-anchor="end">0,6</text>
<text transform="translate(56.6 66.46) scale(0.96 1)" font-family="Liberation Sans, sans-serif" font-size="20" font-weight="normal" text-anchor="end">0,8</text>
<text transform="translate(56.6 14.5) scale(0.96 1)" font-family="Liberation Sans, sans-serif" font-size="20" font-weight="normal" text-anchor="end">1,0</text>
<text transform="translate(62.5 290.4) scale(0.95 1)" font-family="Liberation Sans, sans-serif" font-size="20" font-weight="normal" text-anchor="middle">4</text>
<text transform="translate(110.04 290.4) scale(0.95 1)" font-family="Liberation Sans, sans-serif" font-size="20" font-weight="normal" text-anchor="middle">6</text>
<text transform="translate(157.58 290.4) scale(0.95 1)" font-family="Liberation Sans, sans-serif" font-size="20" font-weight="normal" text-anchor="middle">8</text>
<text transform="translate(205.12 290.4) scale(0.95 1)" font-family="Liberation Sans, sans-serif" font-size="20" font-weight="normal" text-anchor="middle">10</text>
<text transform="translate(252.66 290.4) scale(0.95 1)" font-family="Liberation Sans, sans-serif" font-size="20" font-weight="normal" text-anchor="middle">12</text>
<text transform="translate(300.2 290.4) scale(0.95 1)" font-family="Liberation Sans, sans-serif" font-size="20" font-weight="normal" text-anchor="middle">14</text>
<text transform="translate(347.74 290.4) scale(0.95 1)" font-family="Liberation Sans, sans-serif" font-size="20" font-weight="normal" text-anchor="middle">16</text>
<text transform="translate(395.28 290.4) scale(0.95 1)" font-family="Liberation Sans, sans-serif" font-size="20" font-weight="normal" text-anchor="middle">18</text>
<text transform="translate(442.82 290.4) scale(0.95 1)" font-family="Liberation Sans, sans-serif" font-size="20" font-weight="normal" text-anchor="middle">20</text>
<text transform="translate(490.36 290.4) scale(0.95 1)" font-family="Liberation Sans, sans-serif" font-size="20" font-weight="normal" text-anchor="middle">22</text>
<text transform="translate(14.2 261.2) rotate(-90) scale(0.975 1)" font-family="Liberation Sans, sans-serif" font-size="19.6" font-weight="bold">reflectivity / transmission</text>
<text transform="translate(251.6 315.4) scale(0.98 1)" font-family="Liberation Serif, sans-serif" font-size="21.5" font-weight="normal" text-anchor="start">&#955;</text>
<text transform="translate(267.5 314.6) scale(0.93 1)" font-family="Liberation Sans, sans-serif" font-size="20" font-weight="bold" text-anchor="start">(&#197;)</text>
<text transform="translate(249.6 19.6) scale(0.93 1)" font-family="Liberation Sans, sans-serif" font-size="20" font-weight="bold" text-anchor="start">R</text>
<text transform="translate(263.3 26.9) scale(0.93 1)" font-family="Liberation Sans, sans-serif" font-size="15" font-weight="bold" text-anchor="start">mirror</text>
<text transform="translate(309.8 19.6) scale(0.93 1)" font-family="Liberation Sans, sans-serif" font-size="20" font-weight="bold" text-anchor="start">at 1&#176;</text>
<text transform="translate(304 81.5) scale(0.93 1)" font-family="Liberation Sans, sans-serif" font-size="20" font-weight="bold" text-anchor="start">1.5&#176;</text>
<text transform="translate(316.2 144.9) scale(0.93 1)" font-family="Liberation Sans, sans-serif" font-size="20" font-weight="bold" text-anchor="start">2&#176;</text>
<text transform="translate(234 235.7) scale(0.93 1)" font-family="Liberation Sans, sans-serif" font-size="20" font-weight="bold" text-anchor="start">T</text>
<text transform="translate(246 242.6) scale(0.93 1)" font-family="Liberation Sans, sans-serif" font-size="15" font-weight="bold" text-anchor="start">filter</text></svg>
</body></html>
